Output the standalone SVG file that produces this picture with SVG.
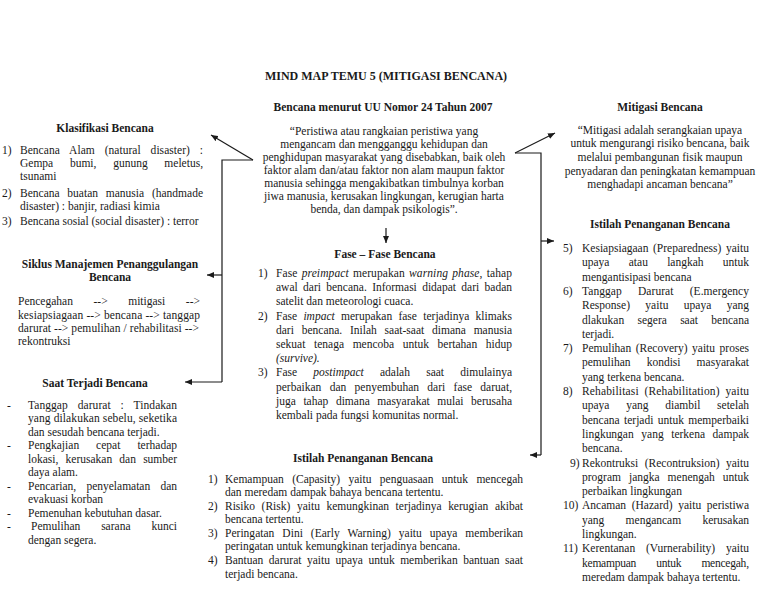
<svg xmlns="http://www.w3.org/2000/svg" width="768" height="594" viewBox="0 0 768 594">
<style>
.t{font-family:"Liberation Serif","Times New Roman",serif;font-size:11.5px;fill:#1a1a1a}
.b{font-weight:bold}
.c{text-anchor:middle}
.i{font-style:italic}
.ln{stroke:#1a1a1a;stroke-width:1.2;fill:none}
</style>
<defs>
<marker id="ah" markerUnits="userSpaceOnUse" markerWidth="7" markerHeight="6" refX="7" refY="3" orient="auto">
<path d="M0,0 L7,3 L0,6 z" fill="#1a1a1a"/>
</marker>
</defs>
<rect width="768" height="594" fill="#ffffff"/>

<g id="title">
<text class="t b c" x="386" y="80" style="font-size:12px">MIND MAP TEMU 5 (MITIGASI BENCANA)</text>
</g>

<g id="bencana-uu">
<text class="t b c" x="383" y="111">Bencana menurut UU Nomor 24 Tahun 2007</text>
<text class="t c" x="384" y="134.5">“Peristiwa  atau rangkaian peristiwa yang</text>
<text class="t c" x="384" y="147.5">mengancam dan mengganggu kehidupan dan</text>
<text class="t c" x="384" y="160.5">penghidupan masyarakat yang disebabkan, baik oleh</text>
<text class="t c" x="384" y="173.5">faktor alam dan/atau faktor non alam maupun faktor</text>
<text class="t c" x="384" y="186.5">manusia sehingga mengakibatkan timbulnya korban</text>
<text class="t c" x="384" y="199.5">jiwa  manusia, kerusakan lingkungan, kerugian harta</text>
<text class="t c" x="384" y="212.5">benda, dan dampak psikologis”.</text>
</g>

<g id="mitigasi">
<text class="t b c" x="660" y="111">Mitigasi Bencana</text>
<text class="t c" x="660" y="133.5">“Mitigasi adalah serangkaian upaya</text>
<text class="t c" x="660" y="147">untuk mengurangi risiko bencana, baik</text>
<text class="t c" x="660" y="160.5">melalui pembangunan fisik maupun</text>
<text class="t c" x="660" y="174.5">penyadaran dan peningkatan kemampuan</text>
<text class="t c" x="660" y="188">menghadapi ancaman bencana”</text>
</g>

<g id="klasifikasi">
<text class="t b c" x="105" y="131.5">Klasifikasi Bencana</text>
<text class="t" x="2" y="154">1)</text>
<text class="t" x="20" y="154" style="word-spacing:7px" textLength="183" lengthAdjust="spacing">Bencana Alam (natural disaster) :</text>
<text class="t" x="20" y="167" style="word-spacing:13.8px" textLength="183" lengthAdjust="spacing">Gempa bumi, gunung meletus,</text>
<text class="t" x="20" y="180">tsunami</text>
<text class="t" x="2" y="197">2)</text>
<text class="t" x="20" y="197" style="word-spacing:4.9px" textLength="183" lengthAdjust="spacing">Bencana buatan manusia (handmade</text>
<text class="t" x="20" y="210">disaster) : banjir, radiasi kimia</text>
<text class="t" x="2" y="225">3)</text>
<text class="t" x="20" y="225">Bencana sosial (social disaster) : terror</text>
</g>

<g id="siklus">
<text class="t b c" x="110" y="268">Siklus Manajemen Penanggulangan</text>
<text class="t b c" x="110" y="281">Bencana</text>
<text class="t" x="18" y="305" style="word-spacing:17.7px" textLength="182" lengthAdjust="spacing">Pencegahan --&gt; mitigasi --&gt;</text>
<text class="t" x="18" y="319" textLength="182" lengthAdjust="spacing">kesiapsiagaan --&gt; bencana --&gt; tanggap</text>
<text class="t" x="18" y="332" textLength="181" lengthAdjust="spacing">darurat --&gt; pemulihan / rehabilitasi --&gt;</text>
<text class="t" x="18" y="345">rekontruksi</text>
</g>

<g id="saat-terjadi">
<text class="t b c" x="95" y="387">Saat Terjadi Bencana</text>
<text class="t" x="7" y="408.5">-</text>
<text class="t" x="28" y="408.5" style="word-spacing:7px" textLength="149" lengthAdjust="spacing">Tanggap darurat : Tindakan</text>
<text class="t" x="28" y="422" textLength="149" lengthAdjust="spacing">yang dilakukan sebelu, seketika</text>
<text class="t" x="28" y="435.5">dan sesudah bencana terjadi.</text>
<text class="t" x="7" y="449">-</text>
<text class="t" x="28" y="449" style="word-spacing:14.1px" textLength="149" lengthAdjust="spacing">Pengkajian cepat terhadap</text>
<text class="t" x="28" y="462.5" style="word-spacing:4.3px" textLength="149" lengthAdjust="spacing">lokasi, kerusakan dan sumber</text>
<text class="t" x="28" y="476">daya alam.</text>
<text class="t" x="7" y="489.5">-</text>
<text class="t" x="28" y="489.5" style="word-spacing:7.3px" textLength="149" lengthAdjust="spacing">Pencarian, penyelamatan dan</text>
<text class="t" x="28" y="503">evakuasi korban</text>
<text class="t" x="7" y="516.5">-</text>
<text class="t" x="28" y="516.5">Pemenuhan kebutuhan dasar.</text>
<text class="t" x="7" y="530">-</text>
<text class="t" x="31" y="530" style="word-spacing:18px" textLength="146" lengthAdjust="spacing">Pemulihan sarana kunci</text>
<text class="t" x="28" y="543.5">dengan segera.</text>
</g>

<g id="fase">
<text class="t b c" x="385" y="258">Fase – Fase Bencana</text>
<text class="t" x="258" y="277">1)</text>
<text class="t" x="276" y="277" style="word-spacing:1.2px" textLength="236" lengthAdjust="spacing">Fase <tspan class="i">preimpact</tspan> merupakan <tspan class="i">warning phase</tspan>, tahap</text>
<text class="t" x="276" y="291" style="word-spacing:2.5px" textLength="236" lengthAdjust="spacing">awal dari bencana. Informasi didapat dari badan</text>
<text class="t" x="276" y="305">satelit dan meteorologi cuaca.</text>
<text class="t" x="258" y="319.5">2)</text>
<text class="t" x="276" y="319.5" style="word-spacing:3.4px" textLength="236" lengthAdjust="spacing">Fase <tspan class="i">impact</tspan> merupakan fase terjadinya klimaks</text>
<text class="t" x="276" y="333.5" style="word-spacing:4.9px" textLength="236" lengthAdjust="spacing">dari bencana. Inilah saat-saat dimana manusia</text>
<text class="t" x="276" y="347.5" style="word-spacing:5.7px" textLength="236" lengthAdjust="spacing">sekuat tenaga mencoba untuk bertahan hidup</text>
<text class="t i" x="276" y="362">(survive).</text>
<text class="t" x="258" y="376">3)</text>
<text class="t" x="276" y="376" style="word-spacing:13.3px" textLength="236" lengthAdjust="spacing">Fase <tspan class="i">postimpact</tspan> adalah saat dimulainya</text>
<text class="t" x="276" y="390.5" style="word-spacing:5.4px" textLength="236" lengthAdjust="spacing">perbaikan dan penyembuhan dari fase daruat,</text>
<text class="t" x="276" y="404.5" style="word-spacing:4.7px" textLength="236" lengthAdjust="spacing">juga tahap dimana masyarakat mulai berusaha</text>
<text class="t" x="276" y="418.5">kembali pada fungsi komunitas normal.</text>
</g>

<g id="istilah-bawah">
<text class="t b c" x="363" y="461.5">Istilah Penanganan Bencana</text>
<text class="t" x="208" y="483">1)</text>
<text class="t" x="225" y="483" style="word-spacing:5.5px" textLength="298" lengthAdjust="spacing">Kemampuan (Capasity) yaitu penguasaan untuk mencegah</text>
<text class="t" x="225" y="496">dan meredam dampak bahaya bencana tertentu.</text>
<text class="t" x="208" y="509.5">2)</text>
<text class="t" x="225" y="509.5" style="word-spacing:3.7px" textLength="298" lengthAdjust="spacing">Risiko (Risk) yaitu kemungkinan terjadinya kerugian akibat</text>
<text class="t" x="225" y="523">bencana tertentu.</text>
<text class="t" x="208" y="536.5">3)</text>
<text class="t" x="225" y="536.5" style="word-spacing:5.1px" textLength="298" lengthAdjust="spacing">Peringatan Dini (Early Warning) yaitu upaya memberikan</text>
<text class="t" x="225" y="550">peringatan untuk kemungkinan terjadinya bencana.</text>
<text class="t" x="208" y="564">4)</text>
<text class="t" x="225" y="564" style="word-spacing:2.6px" textLength="298" lengthAdjust="spacing">Bantuan darurat yaitu upaya untuk memberikan bantuan saat</text>
<text class="t" x="225" y="577.5">terjadi bencana.</text>
</g>

<g id="istilah-kanan">
<text class="t b c" x="660" y="228">Istilah Penanganan Bencana</text>
<text class="t" x="563" y="252">5)</text>
<text class="t" x="582" y="252" style="word-spacing:1.7px" textLength="167" lengthAdjust="spacing">Kesiapsiagaan (Preparedness) yaitu</text>
<text class="t" x="582" y="266.3" style="word-spacing:16.4px" textLength="167" lengthAdjust="spacing">upaya atau langkah untuk</text>
<text class="t" x="582" y="280.6">mengantisipasi bencana</text>
<text class="t" x="563" y="294.9">6)</text>
<text class="t" x="582" y="294.9" style="word-spacing:13.4px" textLength="167" lengthAdjust="spacing">Tanggap Darurat (E.mergency</text>
<text class="t" x="582" y="309.2" style="word-spacing:12.5px" textLength="167" lengthAdjust="spacing">Response) yaitu upaya yang</text>
<text class="t" x="582" y="323.5" style="word-spacing:10.4px" textLength="167" lengthAdjust="spacing">dlakukan segera saat bencana</text>
<text class="t" x="582" y="337.8">terjadi.</text>
<text class="t" x="563" y="352.1">7)</text>
<text class="t" x="582" y="352.1" style="word-spacing:1.7px" textLength="167" lengthAdjust="spacing">Pemulihan (Recovery) yaitu proses</text>
<text class="t" x="582" y="366.4" style="word-spacing:13.2px" textLength="167" lengthAdjust="spacing">pemulihan kondisi masyarakat</text>
<text class="t" x="582" y="380.7">yang terkena bencana.</text>
<text class="t" x="563" y="395">8)</text>
<text class="t" x="582" y="395" style="word-spacing:2.7px" textLength="167" lengthAdjust="spacing">Rehabilitasi (Rehabilitation) yaitu</text>
<text class="t" x="582" y="409.3" style="word-spacing:13.8px" textLength="167" lengthAdjust="spacing">upaya yang diambil setelah</text>
<text class="t" x="582" y="423.6" style="word-spacing:1.5px" textLength="167" lengthAdjust="spacing">bencana terjadi untuk memperbaiki</text>
<text class="t" x="582" y="437.9" style="word-spacing:4.7px" textLength="167" lengthAdjust="spacing">lingkungan yang terkena dampak</text>
<text class="t" x="582" y="452.2">bencana.</text>
<text class="t" x="570" y="466.5">9)</text>
<text class="t" x="582" y="466.5" style="word-spacing:3.6px" textLength="167" lengthAdjust="spacing">Rekontruksi (Recontruksion) yaitu</text>
<text class="t" x="582" y="480.8" style="word-spacing:5.1px" textLength="167" lengthAdjust="spacing">program jangka menengah untuk</text>
<text class="t" x="582" y="495.1">perbaikan lingkungan</text>
<text class="t" x="563" y="509.4">10)</text>
<text class="t" x="582" y="509.4" style="word-spacing:2.8px" textLength="167" lengthAdjust="spacing">Ancaman (Hazard) yaitu peristiwa</text>
<text class="t" x="582" y="523.7" style="word-spacing:18.4px" textLength="167" lengthAdjust="spacing">yang mengancam kerusakan</text>
<text class="t" x="582" y="538">lingkungan.</text>
<text class="t" x="563" y="552.3">11)</text>
<text class="t" x="582" y="552.3" style="word-spacing:7.8px" textLength="167" lengthAdjust="spacing">Kerentanan (Vurnerability) yaitu</text>
<text class="t" x="582" y="566.6" style="word-spacing:17.5px" textLength="167" lengthAdjust="spacing">kemampuan untuk mencegah,</text>
<text class="t" x="582" y="580.9">meredam dampak bahaya tertentu.</text>
</g>

<g id="connectors">
<line class="ln" x1="253" y1="160" x2="211" y2="135" marker-end="url(#ah)"/>
<polyline class="ln" points="253,160 222,160 222,382"/>
<line class="ln" x1="222" y1="275" x2="207" y2="275" marker-end="url(#ah)"/>
<line class="ln" x1="222" y1="382" x2="185" y2="382" marker-end="url(#ah)"/>
<line class="ln" x1="515" y1="153" x2="555" y2="133" marker-end="url(#ah)"/>
<polyline class="ln" points="515,153 541,153 541,455"/>
<line class="ln" x1="541" y1="241" x2="554" y2="241" marker-end="url(#ah)"/>
<line class="ln" x1="541" y1="455" x2="530" y2="455" marker-end="url(#ah)"/>
<line class="ln" x1="386" y1="228" x2="386" y2="243" marker-end="url(#ah)"/>
</g>
</svg>
